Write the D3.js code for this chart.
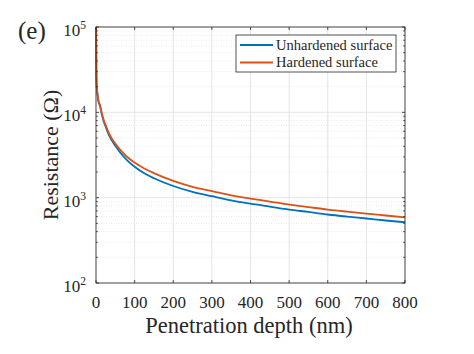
<!DOCTYPE html>
<html><head><meta charset="utf-8">
<script src="https://cdn.jsdelivr.net/npm/d3@7"></script>
<style>body{margin:0;background:#fff}svg{display:block}</style>
</head><body><svg id="c" width="474" height="354" font-family="'Liberation Serif', 'Times New Roman', Times, 'DejaVu Serif', serif"></svg>
<script>
const depth = [0.3, 1, 2, 4, 6, 10, 15, 20, 25, 30, 40, 50, 60, 80, 100, 125, 150, 200, 250, 300, 350, 400, 450, 500, 550, 600, 650, 700, 750, 800];
const unhardened = [100000, 30000, 19500, 16000, 13500, 12000, 9500, 7800, 6800, 5900, 4750, 4050, 3500, 2750, 2300, 1930, 1690, 1370, 1170, 1040, 930, 850, 785, 725, 680, 635, 600, 570, 540, 515];
const hardened   = [100000, 31000, 20000, 16500, 14000, 12300, 9800, 8100, 7100, 6200, 5000, 4300, 3750, 3020, 2580, 2200, 1940, 1570, 1340, 1190, 1065, 975, 900, 830, 775, 725, 685, 650, 618, 588];
const xTicks = [0,100,200,300,400,500,600,700,800];
const yTicks = [100,1000,10000,100000];
const seriesNames = ["Unhardened surface","Hardened surface"];
const colors = ["#0072BD","#D95319"];

const svg = d3.select("#c");
const FF = "'Liberation Serif', 'Times New Roman', Times, 'DejaVu Serif', serif";
const L=96,R=405,T=27,B=283;
const x = d3.scaleLinear().domain([0,800]).range([L,R]);
const y = d3.scaleLog().domain([100,100000]).range([B,T]);

const minor=[];
for(let e=2;e<5;e++)for(let k=2;k<10;k++)minor.push(k*Math.pow(10,e));
svg.append("g").selectAll("line").data(minor).join("line")
 .attr("x1",L).attr("x2",R).attr("y1",d=>y(d)).attr("y2",d=>y(d))
 .attr("stroke","#e6e6e6").attr("stroke-width",0.8).attr("stroke-dasharray","1,1.5");
svg.append("g").selectAll("line").data(xTicks).join("line")
 .attr("x1",d=>x(d)).attr("x2",d=>x(d)).attr("y1",T).attr("y2",B)
 .attr("stroke","#dedede").attr("stroke-width",0.8);
svg.append("g").selectAll("line").data(yTicks).join("line")
 .attr("x1",L).attr("x2",R).attr("y1",d=>y(d)).attr("y2",d=>y(d))
 .attr("stroke","#dedede").attr("stroke-width",0.8);

const line = d3.line().x(d=>x(d[0])).y(d=>y(d[1])).curve(d3.curveMonotoneX);
[unhardened,hardened].forEach((s,i)=>{
  svg.append("path").attr("d",line(depth.map((d,j)=>[d,s[j]])))
   .attr("fill","none").attr("stroke",colors[i]).attr("stroke-width",1.8);
});

const ax = svg.append("g").attr("stroke","#262626").attr("stroke-width",0.8);
ax.append("rect").attr("x",L).attr("y",T).attr("width",R-L).attr("height",B-T).attr("fill","none");
xTicks.forEach(t=>{
  ax.append("line").attr("x1",x(t)).attr("x2",x(t)).attr("y1",B).attr("y2",B-3);
  ax.append("line").attr("x1",x(t)).attr("x2",x(t)).attr("y1",T).attr("y2",T+3);
});
yTicks.forEach(t=>{
  ax.append("line").attr("x1",L).attr("x2",L+3).attr("y1",y(t)).attr("y2",y(t));
  ax.append("line").attr("x1",R).attr("x2",R-3).attr("y1",y(t)).attr("y2",y(t));
});
minor.forEach(t=>{
  ax.append("line").attr("x1",L).attr("x2",L+1.8).attr("y1",y(t)).attr("y2",y(t));
  ax.append("line").attr("x1",R).attr("x2",R-1.8).attr("y1",y(t)).attr("y2",y(t));
});

const txt = sel => sel.attr("font-family",FF).attr("fill","#262626");
svg.append("g").selectAll("text").data(xTicks).join("text").call(txt)
 .attr("x",d=>x(d)).attr("y",308).attr("text-anchor","middle").attr("font-size",17).text(d=>d);
const yl = svg.append("g").selectAll("text").data(yTicks).join("text").call(txt)
 .attr("x",86).attr("y",d=>y(d)+9).attr("text-anchor","end").attr("font-size",17);
yl.append("tspan").text("10");
yl.append("tspan").attr("dy",-7).attr("font-size",11.5).text(d=>Math.round(Math.log10(d)));

svg.append("text").call(txt).attr("x",249).attr("y",333).attr("text-anchor","middle").attr("font-size",22.5).text("Penetration depth (nm)");
svg.append("text").call(txt).attr("transform","translate(57.5,155) rotate(-90)").attr("text-anchor","middle").attr("font-size",22).text("Resistance (Ω)");
svg.append("text").call(txt).attr("x",18).attr("y",39).attr("font-size",25).text("(e)");

const lg = svg.append("g");
lg.append("rect").attr("x",236).attr("y",35).attr("width",160).attr("height",37).attr("fill","#fff").attr("stroke","#262626").attr("stroke-width",0.8);
seriesNames.forEach((n,i)=>{
  const yy=45+i*17.5;
  lg.append("line").attr("x1",240).attr("x2",273).attr("y1",yy).attr("y2",yy).attr("stroke",colors[i]).attr("stroke-width",1.8);
  lg.append("text").call(txt).attr("x",276).attr("y",yy+4.5).attr("font-size",14.5).text(n);
});
</script></body></html>
